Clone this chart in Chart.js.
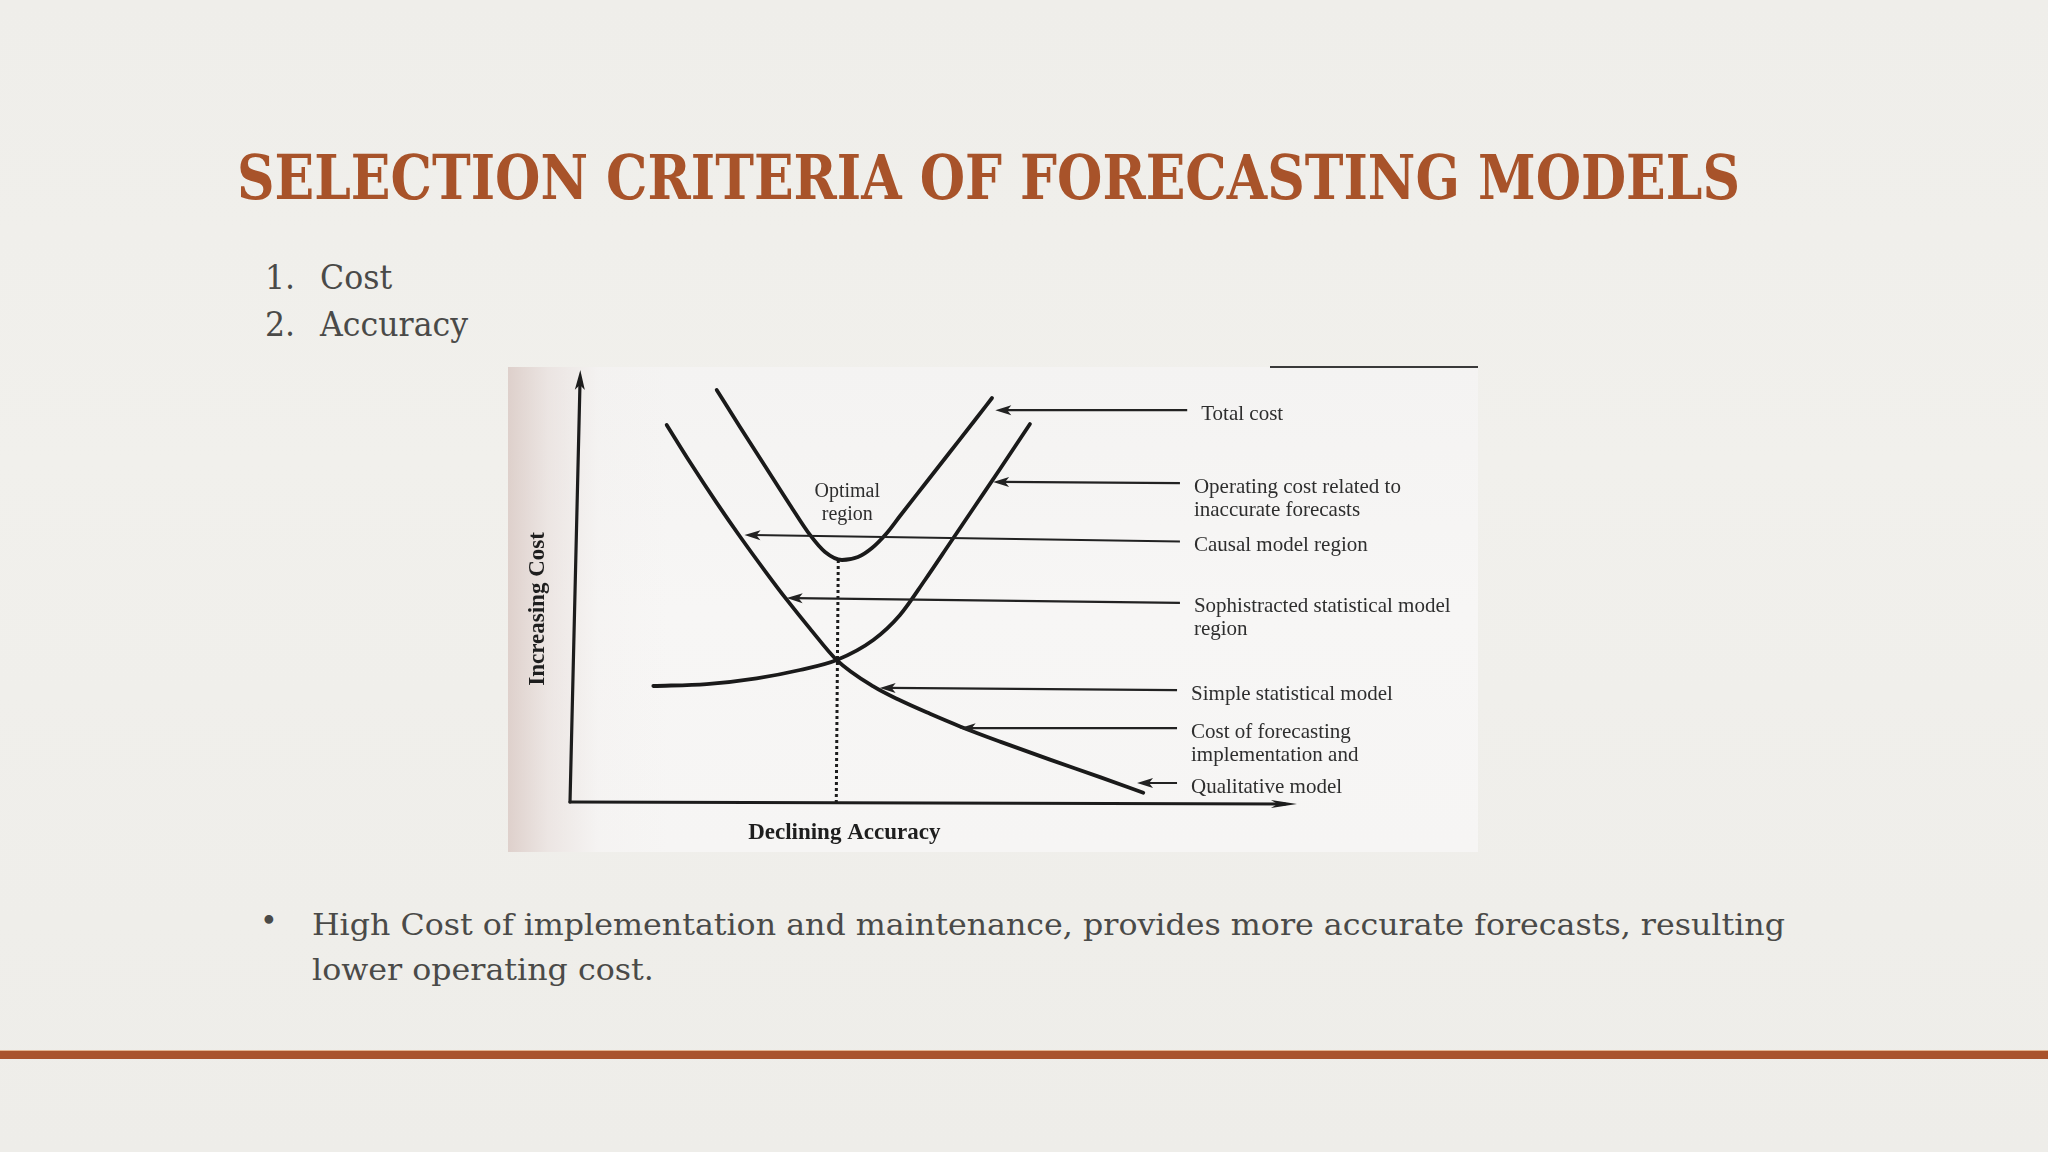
<!DOCTYPE html>
<html>
<head>
<meta charset="utf-8">
<script src="https://cdn.jsdelivr.net/npm/chart.js@4"></script>
<style>
  html, body { margin:0; padding:0; }
  body { width:2048px; height:1152px; position:relative; overflow:hidden;
    background: linear-gradient(180deg,#efeeea 0%,#f1f0ec 40%,#eeede9 100%); }
  .t { position:absolute; white-space:nowrap; line-height:1; transform-origin:0 0; font-family:"DejaVu Serif", serif; }
  #title { left:237px; top:147px; font-size:62px; font-weight:bold; color:#a8532a; }
  .li { font-size:33px; color:#4a4a48; }
  .bl { font-size:30px; color:#4a4a48; }
  #rule { position:absolute; left:0; top:1050px; width:2048px; height:8px; background:#a9532c; border-top:1px solid #e2b38f; }
  #photo { position:absolute; left:508px; top:367px; width:970px; height:485px;
    background:
      linear-gradient(90deg, rgba(214,196,190,0.75) 0px, rgba(226,214,210,0.5) 40px, rgba(240,236,234,0.2) 90px, rgba(255,255,255,0) 160px),
      linear-gradient(180deg,#f4f3f2 0%,#f7f6f5 50%,#f6f5f4 100%); }
  #edge { position:absolute; left:1270px; top:366px; width:208px; height:2px; background:#3a3a3a; }
  canvas { position:absolute; left:0; top:0; }
</style>
</head>
<body>
<div id="title" class="t">SELECTION CRITERIA OF FORECASTING MODELS</div>
<div id="n1" class="t li" style="left:265px; top:261px;">1.</div>
<div id="c1" class="t li" style="left:320px; top:261px;">Cost</div>
<div id="n2" class="t li" style="left:265px; top:308px;">2.</div>
<div id="c2" class="t li" style="left:320px; top:308px;">Accuracy</div>
<div id="dot" class="t bl" style="left:260px; top:906px;">•</div>
<div id="b1" class="t bl" style="left:312px; top:910px;">High Cost of implementation and maintenance, provides more accurate forecasts, resulting</div>
<div id="b2" class="t bl" style="left:312px; top:955px;">lower operating cost.</div>
<div id="rule"></div>
<div id="photo"><canvas id="chart" width="970" height="485"></canvas></div>
<div id="edge"></div>
<script>
// ---- Data (arbitrary units: x = declining accuracy, y = increasing cost) ----
const totalAccuracy = [20.18, 23.38, 26.82, 30.26, 33.01, 35.08, 37.41, 39.61, 41.54, 43.47, 45.39, 48.83, 52.27, 55.71, 58.05];
const totalCost     = [95.37, 86.81, 77.78, 68.75, 61.81, 57.87, 56.02, 56.71, 58.80, 62.04, 66.20, 73.61, 81.02, 88.43, 93.52];

const operatingAccuracy = [11.46, 18.80, 25.68, 31.64, 36.69, 41.72, 45.39, 48.83, 52.27, 55.71, 59.15, 63.27];
const operatingCost     = [26.85, 27.30, 28.63, 30.56, 32.87, 37.50, 43.29, 51.39, 59.95, 68.52, 77.08, 87.50];

const implAccuracy = [13.30, 16.51, 20.18, 23.38, 27.06, 29.81, 33.01, 36.69, 41.72, 45.39, 49.52, 53.65, 59.15, 66.02, 72.90, 78.86];
const implCost     = [87.27, 78.63, 69.24, 61.46, 52.94, 46.83, 40.14, 32.87, 26.76, 23.54, 20.42, 17.50, 13.98, 9.81, 5.76, 2.15];

const optimalAccuracy = 36.9;
const axisMax = [100, 100];

const calloutLabels = [
  ["Total cost"],
  ["Operating cost related to", "inaccurate forecasts"],
  ["Causal model region"],
  ["Sophistracted statistical model", "region"],
  ["Simple statistical model"],
  ["Cost of forecasting", "implementation and"],
  ["Qualitative model"]
];
const calloutTipX  = [58.5, 58.2, 24.0, 29.8, 42.6, 53.6, 78.0];
const calloutTipY  = [90.7, 74.1, 61.8, 47.2, 26.4, 17.1, 4.4];
const calloutTailX = [84.9, 83.9, 83.9, 83.9, 83.5, 83.5, 83.5];
const calloutTailY = [90.7, 73.8, 60.3, 46.1, 25.9, 17.1, 4.4];

const xTitle = "Declining Accuracy";
const yTitle = "Increasing Cost";
const optimalText = ["Optimal", "region"];

const toPts = (xs, ys) => xs.map((x, i) => ({x, y: ys[i]}));

function arrowHead(ctx, x1, y1, x2, y2, len, half) {
  const a = Math.atan2(y2 - y1, x2 - x1);
  ctx.beginPath();
  ctx.moveTo(x2, y2);
  ctx.lineTo(x2 - len*Math.cos(a) + half*Math.sin(a), y2 - len*Math.sin(a) - half*Math.cos(a));
  ctx.lineTo(x2 - len*0.75*Math.cos(a), y2 - len*0.75*Math.sin(a));
  ctx.lineTo(x2 - len*Math.cos(a) - half*Math.sin(a), y2 - len*Math.sin(a) + half*Math.cos(a));
  ctx.closePath();
  ctx.fill();
}

const diagram = {
  id: 'diagram',
  beforeDatasetsDraw(chart) {
    const {ctx, scales:{x, y}} = chart;
    const ox = x.getPixelForValue(0), oy = y.getPixelForValue(0);
    ctx.save();
    ctx.strokeStyle = '#1c1c1c'; ctx.fillStyle = '#1c1c1c';
    ctx.lineWidth = 3.2; ctx.lineCap = 'round';
    // y axis
    const ty = y.getPixelForValue(axisMax[1]);
    ctx.beginPath(); ctx.moveTo(ox, oy); ctx.lineTo(ox + 10, ty + 12); ctx.stroke();
    arrowHead(ctx, ox, oy, ox + 10.3, ty, 20, 5);
    // x axis
    const tx = x.getPixelForValue(axisMax[0]);
    ctx.beginPath(); ctx.moveTo(ox, oy); ctx.lineTo(tx - 12, oy + 2); ctx.stroke();
    arrowHead(ctx, ox, oy, tx, oy + 2, 26, 4);
    // dotted optimal line
    const minCost = Math.min(...totalCost);
    ctx.lineWidth = 3; ctx.lineCap = 'butt';
    ctx.setLineDash([3, 3]);
    const dx = x.getPixelForValue(optimalAccuracy);
    ctx.beginPath(); ctx.moveTo(dx, y.getPixelForValue(minCost)); ctx.lineTo(dx - 2, oy); ctx.stroke();
    ctx.setLineDash([]);
    ctx.restore();
  },
  afterDatasetsDraw(chart) {
    const {ctx, scales:{x, y}} = chart;
    ctx.save();
    ctx.lineWidth = 2.2;
    calloutLabels.forEach((lines, i) => {
      const x1 = x.getPixelForValue(calloutTailX[i]), y1 = y.getPixelForValue(calloutTailY[i]);
      const x2 = x.getPixelForValue(calloutTipX[i]), y2 = y.getPixelForValue(calloutTipY[i]);
      ctx.strokeStyle = '#222'; ctx.fillStyle = '#222';
      ctx.beginPath(); ctx.moveTo(x1, y1); ctx.lineTo(x2 + 8, y2); ctx.stroke();
      arrowHead(ctx, x1, y1, x2, y2, 16, 5);
      ctx.font = '21px "Liberation Serif", serif';
      ctx.fillStyle = '#2e2e2e';
      ctx.textBaseline = 'middle'; ctx.textAlign = 'left';
      lines.forEach((t, k) => ctx.fillText(t, x1 + 14, y1 + 4 + k*23));
    });
    // optimal region text
    const minCost = Math.min(...totalCost);
    const mx = x.getPixelForValue(optimalAccuracy) + 9, my = y.getPixelForValue(minCost);
    ctx.font = '20px "Liberation Serif", serif';
    ctx.fillStyle = '#2e2e2e'; ctx.textAlign = 'center'; ctx.textBaseline = 'middle';
    ctx.fillText(optimalText[0], mx, my - 68);
    ctx.fillText(optimalText[1], mx, my - 45);
    // axis titles
    ctx.font = 'bold 23px "Liberation Serif", serif';
    ctx.fillStyle = '#1e1e1e';
    ctx.fillText(xTitle, x.getPixelForValue(optimalAccuracy) + 6, y.getPixelForValue(0) + 31);
    ctx.save();
    ctx.translate(x.getPixelForValue(0) - 32, y.getPixelForValue(44.7));
    ctx.rotate(-Math.PI/2);
    ctx.fillText(yTitle, 0, 0);
    ctx.restore();
    ctx.restore();
  }
};

const lineStyle = { showLine:true, borderColor:'#1a1a1a', borderWidth:3.8, pointRadius:0,
                    cubicInterpolationMode:'monotone', fill:false, borderCapStyle:'round' };

new Chart(document.getElementById('chart'), {
  type: 'scatter',
  data: { datasets: [
    { label:'Total cost', data: toPts(totalAccuracy, totalCost), ...lineStyle },
    { label:'Operating cost related to inaccurate forecasts', data: toPts(operatingAccuracy, operatingCost), ...lineStyle },
    { label:'Cost of forecasting implementation', data: toPts(implAccuracy, implCost), ...lineStyle }
  ]},
  options: {
    responsive:false, devicePixelRatio:1, animation:false, events:[],
    layout:{ padding:0 },
    scales: {
      x: { type:'linear', min:-8.53, max:124.9, display:false },
      y: { type:'linear', min:-11.57, max:100.69, display:false }
    },
    plugins: { legend:{display:false}, tooltip:{enabled:false} }
  },
  plugins: [diagram]
});

function fitTo(id, w) {
  const el = document.getElementById(id);
  const r = el.getBoundingClientRect().width;
  const s = w / r;
  el.style.transform = 'scaleX(' + s + ')';
  return s;
}
function applyScale(id, s) { document.getElementById(id).style.transform = 'scaleX(' + s + ')'; }
(document.fonts ? document.fonts.ready : Promise.resolve()).then(() => {
  fitTo('title', 1503);
  const s1 = fitTo('c2', 148); applyScale('c1', s1); applyScale('n1', s1); applyScale('n2', s1);
  const s2 = fitTo('b1', 1473); applyScale('b2', s2);
});
</script>
</body>
</html>
